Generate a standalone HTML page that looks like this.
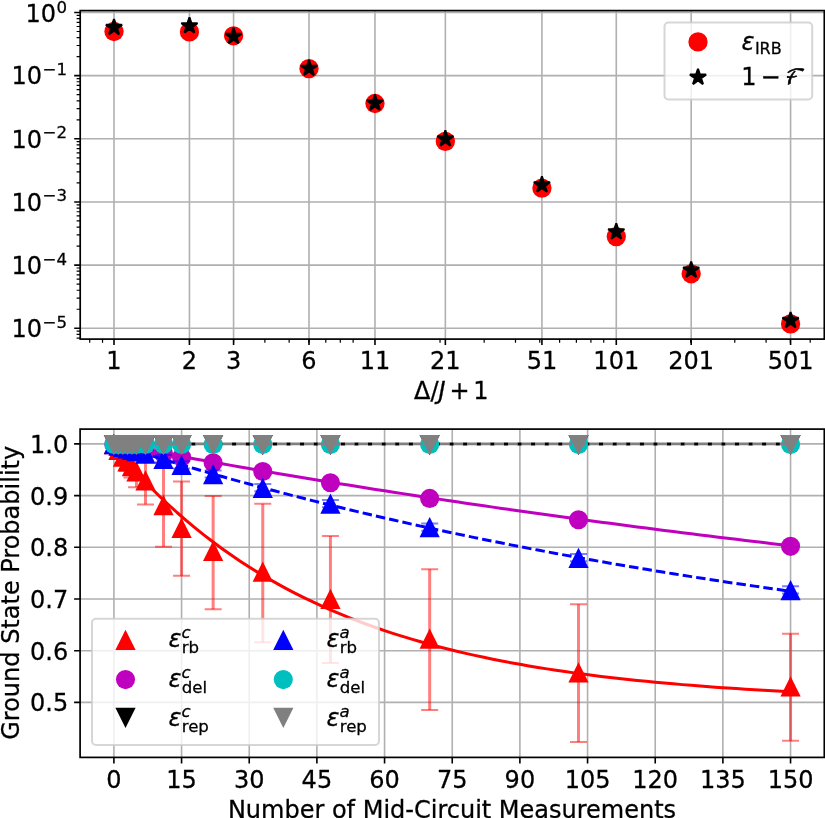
<!DOCTYPE html>
<html><head><meta charset="utf-8"><title>Figure</title>
<style>html,body{margin:0;padding:0;background:#fff}svg text{fill:#000;stroke:#000;stroke-width:.28px}svg text.cal{stroke-width:.7px}</style></head>
<body><svg width="825" height="818" viewBox="0 0 825 818" style="display:block;font-family:'DejaVu Sans','Liberation Sans',sans-serif">
<rect width="825" height="818" fill="#fff"/>
<clipPath id="c1"><rect x="80.2" y="10.6" width="744.0999999999999" height="328.5"/></clipPath>
<path d="M114 10.6V339.1M189.44 10.6V339.1M233.57 10.6V339.1M309 10.6V339.1M374.97 10.6V339.1M445.35 10.6V339.1M541.92 10.6V339.1M616.28 10.6V339.1M691.18 10.6V339.1M790.58 10.6V339.1M80.2 12.5H824.3M80.2 75.65H824.3M80.2 138.8H824.3M80.2 201.95H824.3M80.2 265.1H824.3M80.2 328.25H824.3" stroke="#b0b0b0" stroke-width="1.6" fill="none"/>
<g clip-path="url(#c1)">
<circle cx="114" cy="31.5" r="9.65" fill="#ff0000" />
<circle cx="189.44" cy="31.9" r="9.65" fill="#ff0000" />
<circle cx="233.57" cy="35.8" r="9.65" fill="#ff0000" />
<circle cx="309" cy="68.6" r="9.65" fill="#ff0000" />
<circle cx="374.97" cy="103.5" r="9.65" fill="#ff0000" />
<circle cx="445.35" cy="141.4" r="9.65" fill="#ff0000" />
<circle cx="541.92" cy="188.1" r="9.65" fill="#ff0000" />
<circle cx="616.28" cy="236.6" r="9.65" fill="#ff0000" />
<circle cx="691.18" cy="273.8" r="9.65" fill="#ff0000" />
<circle cx="790.58" cy="323.9" r="9.65" fill="#ff0000" />
<path d="M114 19L112.09 24.87L105.92 24.87L110.91 28.5L109 34.38L114 30.75L119 34.38L117.09 28.5L122.08 24.87L115.91 24.87Z" fill="#000000" stroke="#000" stroke-width="2" stroke-linejoin="bevel"/>
<path d="M189.44 17.3L187.53 23.17L181.35 23.17L186.35 26.8L184.44 32.68L189.44 29.05L194.43 32.68L192.53 26.8L197.52 23.17L191.35 23.17Z" fill="#000000" stroke="#000" stroke-width="2" stroke-linejoin="bevel"/>
<path d="M233.57 27.9L231.66 33.77L225.48 33.77L230.48 37.4L228.57 43.28L233.57 39.65L238.56 43.28L236.65 37.4L241.65 33.77L235.47 33.77Z" fill="#000000" stroke="#000" stroke-width="2" stroke-linejoin="bevel"/>
<path d="M309 59.8L307.1 65.67L300.92 65.67L305.92 69.3L304.01 75.18L309 71.55L314 75.18L312.09 69.3L317.09 65.67L310.91 65.67Z" fill="#000000" stroke="#000" stroke-width="2" stroke-linejoin="bevel"/>
<path d="M374.97 94.6L373.06 100.47L366.89 100.47L371.89 104.1L369.98 109.98L374.97 106.35L379.97 109.98L378.06 104.1L383.06 100.47L376.88 100.47Z" fill="#000000" stroke="#000" stroke-width="2" stroke-linejoin="bevel"/>
<path d="M445.35 130.4L443.44 136.27L437.26 136.27L442.26 139.9L440.35 145.78L445.35 142.15L450.34 145.78L448.44 139.9L453.43 136.27L447.26 136.27Z" fill="#000000" stroke="#000" stroke-width="2" stroke-linejoin="bevel"/>
<path d="M541.92 176.4L540.01 182.27L533.83 182.27L538.83 185.9L536.92 191.78L541.92 188.15L546.91 191.78L545 185.9L550 182.27L543.83 182.27Z" fill="#000000" stroke="#000" stroke-width="2" stroke-linejoin="bevel"/>
<path d="M616.28 223.4L614.37 229.27L608.2 229.27L613.2 232.9L611.29 238.78L616.28 235.15L621.28 238.78L619.37 232.9L624.37 229.27L618.19 229.27Z" fill="#000000" stroke="#000" stroke-width="2" stroke-linejoin="bevel"/>
<path d="M691.18 261.6L689.27 267.47L683.1 267.47L688.09 271.1L686.18 276.98L691.18 273.35L696.18 276.98L694.27 271.1L699.26 267.47L693.09 267.47Z" fill="#000000" stroke="#000" stroke-width="2" stroke-linejoin="bevel"/>
<path d="M790.58 312L788.67 317.87L782.5 317.87L787.49 321.5L785.58 327.38L790.58 323.75L795.58 327.38L793.67 321.5L798.66 317.87L792.49 317.87Z" fill="#000000" stroke="#000" stroke-width="2" stroke-linejoin="bevel"/>
</g>
<path d="M114 339.1v6M189.44 339.1v6M233.57 339.1v6M309 339.1v6M374.97 339.1v6M445.35 339.1v6M541.92 339.1v6M616.28 339.1v6M691.18 339.1v6M790.58 339.1v6M80.2 12.5h-6M80.2 75.65h-6M80.2 138.8h-6M80.2 201.95h-6M80.2 265.1h-6M80.2 328.25h-6" stroke="#000" stroke-width="1.6" fill="none"/>
<path d="M89.71 339.1v3.6M102.53 339.1v3.6M189.44 339.1v3.6M233.57 339.1v3.6M264.88 339.1v3.6M289.16 339.1v3.6M309 339.1v3.6M325.78 339.1v3.6M340.31 339.1v3.6M353.13 339.1v3.6M440.04 339.1v3.6M484.17 339.1v3.6M515.48 339.1v3.6M539.76 339.1v3.6M559.6 339.1v3.6M576.38 339.1v3.6M590.91 339.1v3.6M603.73 339.1v3.6M690.64 339.1v3.6M734.77 339.1v3.6M766.08 339.1v3.6M790.36 339.1v3.6M810.2 339.1v3.6M80.2 338.03h-3.6M80.2 334.37h-3.6M80.2 331.14h-3.6M80.2 309.24h-3.6M80.2 298.12h-3.6M80.2 290.23h-3.6M80.2 284.11h-3.6M80.2 279.11h-3.6M80.2 274.88h-3.6M80.2 271.22h-3.6M80.2 267.99h-3.6M80.2 246.09h-3.6M80.2 234.97h-3.6M80.2 227.08h-3.6M80.2 220.96h-3.6M80.2 215.96h-3.6M80.2 211.73h-3.6M80.2 208.07h-3.6M80.2 204.84h-3.6M80.2 182.94h-3.6M80.2 171.82h-3.6M80.2 163.93h-3.6M80.2 157.81h-3.6M80.2 152.81h-3.6M80.2 148.58h-3.6M80.2 144.92h-3.6M80.2 141.69h-3.6M80.2 119.79h-3.6M80.2 108.67h-3.6M80.2 100.78h-3.6M80.2 94.66h-3.6M80.2 89.66h-3.6M80.2 85.43h-3.6M80.2 81.77h-3.6M80.2 78.54h-3.6M80.2 56.64h-3.6M80.2 45.52h-3.6M80.2 37.63h-3.6M80.2 31.51h-3.6M80.2 26.51h-3.6M80.2 22.28h-3.6M80.2 18.62h-3.6M80.2 15.39h-3.6" stroke="#000" stroke-width="1.2" fill="none"/>
<rect x="80.2" y="10.6" width="744.1" height="328.5" fill="none" stroke="#000" stroke-width="1.7"/>
<text x="114" y="369.1" font-size="24" text-anchor="middle">1</text>
<text x="189.44" y="369.1" font-size="24" text-anchor="middle">2</text>
<text x="233.57" y="369.1" font-size="24" text-anchor="middle">3</text>
<text x="309" y="369.1" font-size="24" text-anchor="middle">6</text>
<text x="374.97" y="369.1" font-size="24" text-anchor="middle">11</text>
<text x="445.35" y="369.1" font-size="24" text-anchor="middle">21</text>
<text x="541.92" y="369.1" font-size="24" text-anchor="middle">51</text>
<text x="616.28" y="369.1" font-size="24" text-anchor="middle">101</text>
<text x="691.18" y="369.1" font-size="24" text-anchor="middle">201</text>
<text x="790.58" y="369.1" font-size="24" text-anchor="middle">501</text>
<text x="67" y="22" font-size="24" text-anchor="end">10<tspan font-size="16.6" dy="-9.2" dx="0.5">0</tspan></text>
<text x="67" y="84.35" font-size="24" text-anchor="end">10<tspan font-size="16.6" dy="-9.2" dx="0.5">−1</tspan></text>
<text x="67" y="147.5" font-size="24" text-anchor="end">10<tspan font-size="16.6" dy="-9.2" dx="0.5">−2</tspan></text>
<text x="67" y="210.65" font-size="24" text-anchor="end">10<tspan font-size="16.6" dy="-9.2" dx="0.5">−3</tspan></text>
<text x="67" y="273.8" font-size="24" text-anchor="end">10<tspan font-size="16.6" dy="-9.2" dx="0.5">−4</tspan></text>
<text x="67" y="336.95" font-size="24" text-anchor="end">10<tspan font-size="16.6" dy="-9.2" dx="0.5">−5</tspan></text>
<text y="398.6" font-size="24"><tspan x="414">Δ/</tspan><tspan font-style="italic">J</tspan><tspan x="449.5">+</tspan><tspan x="473.2">1</tspan></text>
<rect x="664.5" y="22.6" width="147.7" height="76.9" rx="4" ry="4" fill="#fff" fill-opacity="0.8" stroke="#ccc" stroke-opacity="0.8" stroke-width="2"/>
<circle cx="698" cy="41.9" r="9.65" fill="#ff0000" />
<path d="M698 68.7L696.09 74.57L689.92 74.57L694.91 78.2L693 84.08L698 80.45L703 84.08L701.09 78.2L706.08 74.57L699.91 74.57Z" fill="#000" stroke="#000" stroke-width="2" stroke-linejoin="bevel"/>
<text x="741.5" y="49.7" font-size="24"><tspan font-style="italic">ε</tspan><tspan font-size="16" dy="3.9" dx="0.4">IRB</tspan></text>
<text y="85" font-size="24"><tspan x="741.3">1</tspan><tspan x="760.6">−</tspan></text>
<text transform="translate(783.6 84.4) skewX(-12)" font-size="20.5" font-family="'DejaVu Math TeX Gyre','DejaVu Serif',serif" class="cal">ℱ</text>
<clipPath id="c2"><rect x="80.1" y="429.1" width="744.1999999999999" height="328.29999999999995"/></clipPath>
<path d="M113.9 429.1V757.4M181.56 429.1V757.4M249.23 429.1V757.4M316.89 429.1V757.4M384.56 429.1V757.4M452.23 429.1V757.4M519.89 429.1V757.4M587.56 429.1V757.4M655.22 429.1V757.4M722.88 429.1V757.4M790.55 429.1V757.4M80.1 443.9H824.3M80.1 495.6H824.3M80.1 547.3H824.3M80.1 599H824.3M80.1 650.7H824.3M80.1 702.4H824.3" stroke="#b0b0b0" stroke-width="1.6" fill="none"/>
<g clip-path="url(#c2)">
<path d="M113.9 442.35V445.45M118.41 444.62V454.96M122.92 449.07V463.55M127.43 451.65V470.89M131.94 454.76V477.5M136.46 455.27V487.33M145.48 455.79V504.39M163.52 463.03V546.78M181.56 481.49V575.74M213.14 496.12V609.34M262.76 503.87V642.17M330.43 535.93V663.11M429.67 569.32V710M578.53 604.17V742M790.55 633.64V740.66" stroke="#ff0000" stroke-opacity="0.5" stroke-width="3" fill="none"/><path d="M105.4 442.35h17M105.4 445.45h17M109.91 444.62h17M109.91 454.96h17M114.42 449.07h17M114.42 463.55h17M118.93 451.65h17M118.93 470.89h17M123.44 454.76h17M123.44 477.5h17M127.96 455.27h17M127.96 487.33h17M136.98 455.79h17M136.98 504.39h17M155.02 463.03h17M155.02 546.78h17M173.06 481.49h17M173.06 575.74h17M204.64 496.12h17M204.64 609.34h17M254.26 503.87h17M254.26 642.17h17M321.93 535.93h17M321.93 663.11h17M421.17 569.32h17M421.17 710h17M570.03 604.17h17M570.03 742h17M782.05 633.64h17M782.05 740.66h17" stroke="#ff0000" stroke-opacity="0.5" stroke-width="2" fill="none"/>
<path d="M113.9 447.05L122.92 457.63L131.94 467.77L140.97 477.49L149.99 486.8L159.01 495.73L168.03 504.29L177.05 512.5L186.08 520.36L195.1 527.9L204.12 535.13L213.14 542.06L222.16 548.7L231.19 555.07L240.21 561.17L249.23 567.02L258.25 572.63L267.27 578L276.3 583.15L285.32 588.09L294.34 592.83L303.36 597.36L312.38 601.72L321.41 605.89L330.43 609.88L339.45 613.71L348.47 617.39L357.49 620.91L366.52 624.28L375.54 627.52L384.56 630.62L393.58 633.59L402.6 636.44L411.63 639.18L420.65 641.79L429.67 644.31L438.69 646.71L447.71 649.02L456.74 651.23L465.76 653.35L474.78 655.38L483.8 657.33L492.82 659.19L501.85 660.98L510.87 662.7L519.89 664.34L528.91 665.92L537.93 667.43L546.96 668.88L555.98 670.27L565 671.6L574.02 672.87L583.04 674.1L592.07 675.27L601.09 676.39L610.11 677.47L619.13 678.5L628.15 679.49L637.18 680.44L646.2 681.35L655.22 682.22L664.24 683.06L673.26 683.86L682.29 684.63L691.31 685.36L700.33 686.07L709.35 686.75L718.37 687.39L727.4 688.02L736.42 688.61L745.44 689.18L754.46 689.73L763.48 690.25L772.51 690.76L781.53 691.24L790.55 691.7" stroke="#ff0000" stroke-width="3.0" fill="none" stroke-linejoin="round"/>
<path d="M113.9 433.96L103.78 454.2L124.02 454.2Z" fill="#ff0000" />
<path d="M118.41 439.85L108.29 460.09L128.53 460.09Z" fill="#ff0000" />
<path d="M122.92 446.47L112.8 466.71L133.04 466.71Z" fill="#ff0000" />
<path d="M127.43 451.28L117.31 471.52L137.55 471.52Z" fill="#ff0000" />
<path d="M131.94 455.98L121.82 476.22L142.06 476.22Z" fill="#ff0000" />
<path d="M136.46 461.15L126.34 481.39L146.58 481.39Z" fill="#ff0000" />
<path d="M145.48 470.15L135.36 490.39L155.6 490.39Z" fill="#ff0000" />
<path d="M163.52 494.97L153.4 515.21L173.64 515.21Z" fill="#ff0000" />
<path d="M181.56 517.71L171.44 537.95L191.69 537.95Z" fill="#ff0000" />
<path d="M213.14 540.77L203.02 561.01L223.26 561.01Z" fill="#ff0000" />
<path d="M262.76 561.45L252.64 581.69L272.88 581.69Z" fill="#ff0000" />
<path d="M330.43 588.8L320.31 609.04L340.55 609.04Z" fill="#ff0000" />
<path d="M429.67 628.61L419.55 648.85L439.79 648.85Z" fill="#ff0000" />
<path d="M578.53 662.22L568.41 682.46L588.65 682.46Z" fill="#ff0000" />
<path d="M790.55 676.17L780.43 696.41L800.67 696.41Z" fill="#ff0000" />
<path d="M113.9 443.9L122.92 445.62L131.94 447.33L140.97 449.03L149.99 450.71L159.01 452.39L168.03 454.05L177.05 455.71L186.08 457.35L195.1 458.98L204.12 460.6L213.14 462.21L222.16 463.81L231.19 465.39L240.21 466.97L249.23 468.54L258.25 470.1L267.27 471.64L276.3 473.18L285.32 474.7L294.34 476.22L303.36 477.72L312.38 479.22L321.41 480.7L330.43 482.18L339.45 483.65L348.47 485.1L357.49 486.55L366.52 487.98L375.54 489.41L384.56 490.83L393.58 492.24L402.6 493.64L411.63 495.03L420.65 496.41L429.67 497.78L438.69 499.14L447.71 500.49L456.74 501.83L465.76 503.17L474.78 504.5L483.8 505.81L492.82 507.12L501.85 508.42L510.87 509.71L519.89 510.99L528.91 512.27L537.93 513.53L546.96 514.79L555.98 516.04L565 517.28L574.02 518.51L583.04 519.74L592.07 520.95L601.09 522.16L610.11 523.36L619.13 524.55L628.15 525.73L637.18 526.91L646.2 528.08L655.22 529.24L664.24 530.39L673.26 531.54L682.29 532.67L691.31 533.8L700.33 534.92L709.35 536.04L718.37 537.15L727.4 538.25L736.42 539.34L745.44 540.42L754.46 541.5L763.48 542.57L772.51 543.64L781.53 544.69L790.55 545.74" stroke="#bf00bf" stroke-width="3.0" fill="none" stroke-linejoin="round"/>
<circle cx="113.9" cy="444.5" r="9.55" fill="#bf00bf" />
<circle cx="118.41" cy="445.36" r="9.55" fill="#bf00bf" />
<circle cx="122.92" cy="446.22" r="9.55" fill="#bf00bf" />
<circle cx="127.43" cy="447.08" r="9.55" fill="#bf00bf" />
<circle cx="131.94" cy="447.93" r="9.55" fill="#bf00bf" />
<circle cx="136.46" cy="448.78" r="9.55" fill="#bf00bf" />
<circle cx="145.48" cy="450.47" r="9.55" fill="#bf00bf" />
<circle cx="163.52" cy="453.82" r="9.55" fill="#bf00bf" />
<circle cx="181.56" cy="457.13" r="9.55" fill="#bf00bf" />
<circle cx="213.14" cy="462.81" r="9.55" fill="#bf00bf" />
<circle cx="262.76" cy="471.47" r="9.55" fill="#bf00bf" />
<circle cx="330.43" cy="482.78" r="9.55" fill="#bf00bf" />
<circle cx="429.67" cy="498.38" r="9.55" fill="#bf00bf" />
<circle cx="578.53" cy="519.72" r="9.55" fill="#bf00bf" />
<circle cx="790.55" cy="546.34" r="9.55" fill="#bf00bf" />
<path d="M113.9 443.9H790.55" stroke="#000" stroke-width="3" fill="none" stroke-dasharray="4.3 9.29" stroke-dashoffset="-9.39"/>
<path d="M113.9 455.24L103.78 435L124.02 435Z" fill="#000" />
<path d="M118.41 455.24L108.29 435L128.53 435Z" fill="#000" />
<path d="M122.92 455.24L112.8 435L133.04 435Z" fill="#000" />
<path d="M127.43 455.24L117.31 435L137.55 435Z" fill="#000" />
<path d="M131.94 455.24L121.82 435L142.06 435Z" fill="#000" />
<path d="M136.46 455.24L126.34 435L146.58 435Z" fill="#000" />
<path d="M145.48 455.24L135.36 435L155.6 435Z" fill="#000" />
<path d="M163.52 455.24L153.4 435L173.64 435Z" fill="#000" />
<path d="M181.56 455.24L171.44 435L191.69 435Z" fill="#000" />
<path d="M213.14 455.24L203.02 435L223.26 435Z" fill="#000" />
<path d="M262.76 455.24L252.64 435L272.88 435Z" fill="#000" />
<path d="M330.43 455.24L320.31 435L340.55 435Z" fill="#000" />
<path d="M429.67 455.24L419.55 435L439.79 435Z" fill="#000" />
<path d="M578.53 455.24L568.41 435L588.65 435Z" fill="#000" />
<path d="M790.55 455.24L780.43 435L800.67 435Z" fill="#000" />
<path d="M113.9 440.28V447.52M118.41 441.73V448.97M122.92 443.17V450.41M127.43 444.61V451.85M131.94 446.03V453.27M136.46 447.45V454.69M145.48 449.85V457.09M163.52 454.97V462.21M181.56 461.21V468.44M213.14 470.38V477.62M262.76 484.09V491.33M330.43 499.92V507.16M429.67 523.41V530.65M578.53 553.99V561.23M790.55 586.33V593.57" stroke="#0000ff" stroke-opacity="0.5" stroke-width="3" fill="none"/><path d="M105.4 440.28h17M105.4 447.52h17M109.91 441.73h17M109.91 448.97h17M114.42 443.17h17M114.42 450.41h17M118.93 444.61h17M118.93 451.85h17M123.44 446.03h17M123.44 453.27h17M127.96 447.45h17M127.96 454.69h17M136.98 449.85h17M136.98 457.09h17M155.02 454.97h17M155.02 462.21h17M173.06 461.21h17M173.06 468.44h17M204.64 470.38h17M204.64 477.62h17M254.26 484.09h17M254.26 491.33h17M321.93 499.92h17M321.93 507.16h17M421.17 523.41h17M421.17 530.65h17M570.03 553.99h17M570.03 561.23h17M782.05 586.33h17M782.05 593.57h17" stroke="#0000ff" stroke-opacity="0.5" stroke-width="2" fill="none"/>
<path d="M113.9 443.9L122.92 446.79L131.94 449.65L140.97 452.48L149.99 455.28L159.01 458.05L168.03 460.78L177.05 463.48L186.08 466.16L195.1 468.8L204.12 471.42L213.14 474L222.16 476.56L231.19 479.09L240.21 481.58L249.23 484.06L258.25 486.5L267.27 488.92L276.3 491.31L285.32 493.67L294.34 496L303.36 498.31L312.38 500.6L321.41 502.86L330.43 505.09L339.45 507.3L348.47 509.48L357.49 511.64L366.52 513.78L375.54 515.89L384.56 517.97L393.58 520.04L402.6 522.08L411.63 524.1L420.65 526.09L429.67 528.07L438.69 530.02L447.71 531.95L456.74 533.85L465.76 535.74L474.78 537.61L483.8 539.45L492.82 541.27L501.85 543.08L510.87 544.86L519.89 546.62L528.91 548.37L537.93 550.09L546.96 551.8L555.98 553.48L565 555.15L574.02 556.8L583.04 558.43L592.07 560.04L601.09 561.63L610.11 563.21L619.13 564.76L628.15 566.3L637.18 567.83L646.2 569.33L655.22 570.82L664.24 572.29L673.26 573.75L682.29 575.19L691.31 576.61L700.33 578.02L709.35 579.41L718.37 580.79L727.4 582.15L736.42 583.5L745.44 584.83L754.46 586.14L763.48 587.44L772.51 588.73L781.53 590L790.55 591.26" stroke="#0000ff" stroke-width="3.0" fill="none" stroke-dasharray="9.49 4.1"/>
<path d="M113.9 433.96L103.78 454.2L124.02 454.2Z" fill="#0000ff" />
<path d="M118.41 435.41L108.29 455.65L128.53 455.65Z" fill="#0000ff" />
<path d="M122.92 436.85L112.8 457.09L133.04 457.09Z" fill="#0000ff" />
<path d="M127.43 438.29L117.31 458.53L137.55 458.53Z" fill="#0000ff" />
<path d="M131.94 439.71L121.82 459.95L142.06 459.95Z" fill="#0000ff" />
<path d="M136.46 441.13L126.34 461.37L146.58 461.37Z" fill="#0000ff" />
<path d="M145.48 443.53L135.36 463.77L155.6 463.77Z" fill="#0000ff" />
<path d="M163.52 448.65L153.4 468.89L173.64 468.89Z" fill="#0000ff" />
<path d="M181.56 454.88L171.44 475.12L191.69 475.12Z" fill="#0000ff" />
<path d="M213.14 464.06L203.02 484.3L223.26 484.3Z" fill="#0000ff" />
<path d="M262.76 477.77L252.64 498.01L272.88 498.01Z" fill="#0000ff" />
<path d="M330.43 493.6L320.31 513.84L340.55 513.84Z" fill="#0000ff" />
<path d="M429.67 517.09L419.55 537.33L439.79 537.33Z" fill="#0000ff" />
<path d="M578.53 547.67L568.41 567.91L588.65 567.91Z" fill="#0000ff" />
<path d="M790.55 580.01L780.43 600.25L800.67 600.25Z" fill="#0000ff" />
<circle cx="113.9" cy="444.5" r="9.55" fill="#00bfbf" />
<circle cx="118.41" cy="444.5" r="9.55" fill="#00bfbf" />
<circle cx="122.92" cy="444.5" r="9.55" fill="#00bfbf" />
<circle cx="127.43" cy="444.5" r="9.55" fill="#00bfbf" />
<circle cx="131.94" cy="444.5" r="9.55" fill="#00bfbf" />
<circle cx="136.46" cy="444.5" r="9.55" fill="#00bfbf" />
<circle cx="145.48" cy="444.5" r="9.55" fill="#00bfbf" />
<circle cx="163.52" cy="444.5" r="9.55" fill="#00bfbf" />
<circle cx="181.56" cy="444.5" r="9.55" fill="#00bfbf" />
<circle cx="213.14" cy="444.5" r="9.55" fill="#00bfbf" />
<circle cx="262.76" cy="444.5" r="9.55" fill="#00bfbf" />
<circle cx="330.43" cy="444.5" r="9.55" fill="#00bfbf" />
<circle cx="429.67" cy="444.5" r="9.55" fill="#00bfbf" />
<circle cx="578.53" cy="444.5" r="9.55" fill="#00bfbf" />
<circle cx="790.55" cy="444.5" r="9.55" fill="#00bfbf" />
<path d="M113.9 443.9H790.55" stroke="#808080" stroke-width="2.6" fill="none" stroke-dasharray="9.49 4.1"/>
<path d="M113.9 455.24L103.78 435L124.02 435Z" fill="#808080" />
<path d="M118.41 455.24L108.29 435L128.53 435Z" fill="#808080" />
<path d="M122.92 455.24L112.8 435L133.04 435Z" fill="#808080" />
<path d="M127.43 455.24L117.31 435L137.55 435Z" fill="#808080" />
<path d="M131.94 455.24L121.82 435L142.06 435Z" fill="#808080" />
<path d="M136.46 455.24L126.34 435L146.58 435Z" fill="#808080" />
<path d="M145.48 455.24L135.36 435L155.6 435Z" fill="#808080" />
<path d="M163.52 455.24L153.4 435L173.64 435Z" fill="#808080" />
<path d="M181.56 455.24L171.44 435L191.69 435Z" fill="#808080" />
<path d="M213.14 455.24L203.02 435L223.26 435Z" fill="#808080" />
<path d="M262.76 455.24L252.64 435L272.88 435Z" fill="#808080" />
<path d="M330.43 455.24L320.31 435L340.55 435Z" fill="#808080" />
<path d="M429.67 455.24L419.55 435L439.79 435Z" fill="#808080" />
<path d="M578.53 455.24L568.41 435L588.65 435Z" fill="#808080" />
<path d="M790.55 455.24L780.43 435L800.67 435Z" fill="#808080" />
</g>
<path d="M113.9 757.4v6M181.56 757.4v6M249.23 757.4v6M316.89 757.4v6M384.56 757.4v6M452.23 757.4v6M519.89 757.4v6M587.56 757.4v6M655.22 757.4v6M722.88 757.4v6M790.55 757.4v6M80.1 443.9h-6M80.1 495.6h-6M80.1 547.3h-6M80.1 599h-6M80.1 650.7h-6M80.1 702.4h-6" stroke="#000" stroke-width="1.6" fill="none"/>
<rect x="80.1" y="429.1" width="744.2" height="328.3" fill="none" stroke="#000" stroke-width="1.7"/>
<text x="113.9" y="787.6" font-size="24" text-anchor="middle">0</text>
<text x="181.56" y="787.6" font-size="24" text-anchor="middle">15</text>
<text x="249.23" y="787.6" font-size="24" text-anchor="middle">30</text>
<text x="316.89" y="787.6" font-size="24" text-anchor="middle">45</text>
<text x="384.56" y="787.6" font-size="24" text-anchor="middle">60</text>
<text x="452.23" y="787.6" font-size="24" text-anchor="middle">75</text>
<text x="519.89" y="787.6" font-size="24" text-anchor="middle">90</text>
<text x="587.56" y="787.6" font-size="24" text-anchor="middle">105</text>
<text x="655.22" y="787.6" font-size="24" text-anchor="middle">120</text>
<text x="722.88" y="787.6" font-size="24" text-anchor="middle">135</text>
<text x="790.55" y="787.6" font-size="24" text-anchor="middle">150</text>
<text x="68.2" y="452.9" font-size="24" text-anchor="end">1.0</text>
<text x="68.2" y="504.6" font-size="24" text-anchor="end">0.9</text>
<text x="68.2" y="556.3" font-size="24" text-anchor="end">0.8</text>
<text x="68.2" y="608" font-size="24" text-anchor="end">0.7</text>
<text x="68.2" y="659.7" font-size="24" text-anchor="end">0.6</text>
<text x="68.2" y="711.4" font-size="24" text-anchor="end">0.5</text>
<text x="452" y="818.2" font-size="24" text-anchor="middle">Number of Mid-Circuit Measurements</text>
<text transform="translate(18.6 592.8) rotate(-90)" font-size="24" text-anchor="middle">Ground State Probability</text>
<rect x="92" y="618.8" width="287" height="126.2" rx="4" ry="4" fill="#fff" fill-opacity="0.8" stroke="#ccc" stroke-opacity="0.8" stroke-width="2"/>
<path d="M125.5 629.71L115.38 649.95L135.62 649.95Z" fill="#ff0000" />
<circle cx="125.5" cy="679.6" r="9.55" fill="#bf00bf" />
<path d="M125.5 728.04L115.38 707.8L135.62 707.8Z" fill="#000" />
<path d="M283.3 629.71L273.18 649.95L293.42 649.95Z" fill="#0000ff" />
<circle cx="283.3" cy="679.6" r="9.55" fill="#00bfbf" />
<path d="M283.3 728.04L273.18 707.8L293.42 707.8Z" fill="#808080" />
<text x="168.6" y="647.2" font-size="24"><tspan font-style="italic">ε</tspan><tspan font-size="16.6" font-style="italic" dy="-8.8">c</tspan></text><text x="181.7" y="653.4" font-size="16.6">rb</text>
<text x="168.6" y="686.8" font-size="24"><tspan font-style="italic">ε</tspan><tspan font-size="16.6" font-style="italic" dy="-8.8">c</tspan></text><text x="181.7" y="693" font-size="16.6">del</text>
<text x="168.6" y="725.6" font-size="24"><tspan font-style="italic">ε</tspan><tspan font-size="16.6" font-style="italic" dy="-8.8">c</tspan></text><text x="181.7" y="731.8" font-size="16.6">rep</text>
<text x="326.6" y="647.2" font-size="24"><tspan font-style="italic">ε</tspan><tspan font-size="16.6" font-style="italic" dy="-8.8">a</tspan></text><text x="339.7" y="653.4" font-size="16.6">rb</text>
<text x="326.6" y="686.8" font-size="24"><tspan font-style="italic">ε</tspan><tspan font-size="16.6" font-style="italic" dy="-8.8">a</tspan></text><text x="339.7" y="693" font-size="16.6">del</text>
<text x="326.6" y="725.6" font-size="24"><tspan font-style="italic">ε</tspan><tspan font-size="16.6" font-style="italic" dy="-8.8">a</tspan></text><text x="339.7" y="731.8" font-size="16.6">rep</text>
</svg></body></html>
